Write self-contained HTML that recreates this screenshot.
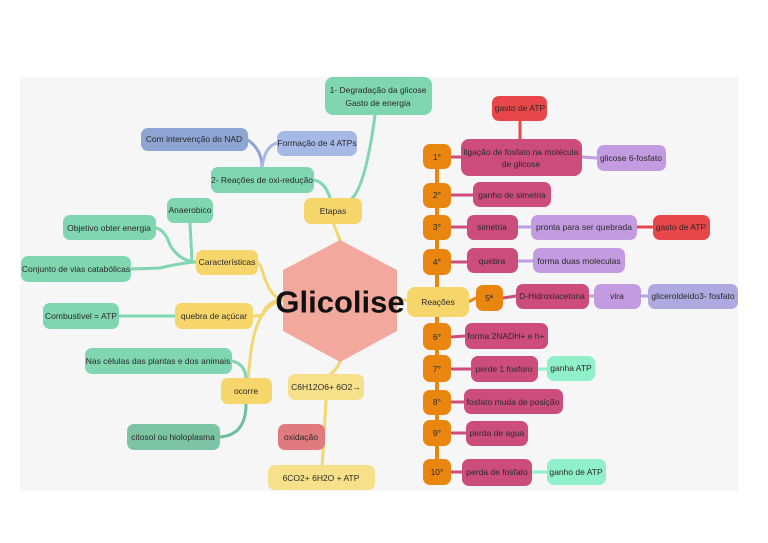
<!DOCTYPE html>
<html><head><meta charset="utf-8"><style>
html,body{margin:0;padding:0;background:#fff;}
svg{display:block;}
text{font-family:"Liberation Sans",sans-serif;font-size:8.5px;fill:#2a2a2a;text-anchor:middle;dominant-baseline:central;}
</style></head><body>
<svg width="768" height="543" viewBox="0 0 768 543" xmlns="http://www.w3.org/2000/svg">
<rect x="20" y="77" width="718" height="414" fill="#f6f6f6"/>
<g fill="none" stroke-width="3" stroke-linecap="round">
<!-- yellow connectors from center -->
<path d="M340 240 Q335 228 333 222" stroke="#f2d770"/>
<path d="M283 300 Q270 298 262 270 Q260 263 256 262" stroke="#f2d770"/>
<path d="M283 300 Q268 300 262 315 Q258 316 252 316" stroke="#f2d770"/>
<path d="M283 300 Q255 305 250 360 Q248 378 248 380" stroke="#f2d770"/>
<path d="M340 362 Q335 372 328 376" stroke="#f2d770"/>
<path d="M326 400 L322 470" stroke="#f2d770"/>
<path d="M397 300 L408 300" stroke="#f2d770"/>
<!-- green -->
<path d="M350 200 Q365 190 375 115" stroke="#7fd6b0"/>
<path d="M314 180 Q325 182 330 198" stroke="#7fd6b0"/>
<path d="M198 262 Q185 262 160 268 L131 269" stroke="#7fd6b0"/>
<path d="M198 262 Q180 262 170 245 Q165 230 156 228" stroke="#7fd6b0"/>
<path d="M198 262 L192 262 L190 223" stroke="#7fd6b0"/>
<path d="M176 316 L119 316" stroke="#7fd6b0"/>
<path d="M232 361 Q245 364 246 378" stroke="#7fd6b0"/>
<path d="M246 404 Q246 435 220 437" stroke="#6fbf9c"/>
<!-- blue -->
<path d="M262 167 Q262 150 248 140" stroke="#8ea4d2"/>
<path d="M262 167 Q265 146 277 143" stroke="#a5b8e6"/>
<!-- orange spine -->
<path d="M437 157 L437 472" stroke="#e8860f" stroke-width="4"/>
<path d="M468 302 L476 298" stroke="#e8860f"/>
<!-- magenta -->
<g stroke="#cc4d7b">
<path d="M451 157 L461 157"/><path d="M451 195 L473 195"/><path d="M451 227 L467 227"/><path d="M451 262 L467 262"/>
<path d="M503 298 L516 296"/><path d="M451 337 L465 336"/><path d="M451 369 L471 369"/><path d="M451 402 L464 402"/>
<path d="M451 433 L466 433"/><path d="M451 472 L462 472"/>
</g>
<path d="M520 121 L520 139" stroke="#e8474a"/>
<path d="M582 157 L597 158" stroke="#c39be0"/>
<path d="M518 227 L531 227" stroke="#c39be0"/>
<path d="M637 227 L653 227" stroke="#e8474a"/>
<path d="M518 261 L533 261" stroke="#c39be0"/>
<path d="M589 296 L594 296" stroke="#c39be0"/>
<path d="M641 296 L648 296" stroke="#b0a8e0"/>
<path d="M538 369 L547 369" stroke="#8ff0c9"/>
<path d="M532 472 L547 472" stroke="#8ff0c9"/>
</g>
<!-- hexagon -->
<polygon points="340,240 397,270 397,331 340,362 283,331 283,270" fill="#f2a89c"/>
<text x="340" y="302" style="font-size:31px;font-weight:bold;fill:#111">Glicolise</text>

<g>
<rect x="325" y="77" width="107" height="38" rx="8" fill="#7fd6b0"/><text x="378" y="90">1- Degradação da glicose</text><text x="378" y="103">Gasto de energia</text>
<rect x="141" y="128" width="107" height="23" rx="7" fill="#8ea4d2"/><text x="194" y="139">Com intervenção do NAD</text>
<rect x="277" y="131" width="80" height="25" rx="7" fill="#a5b8e6"/><text x="317" y="143">Formação de 4 ATPs</text>
<rect x="211" y="167" width="103" height="26" rx="7" fill="#7fd6b0"/><text x="262" y="180">2- Reações de oxi-redução</text>
<rect x="304" y="198" width="58" height="26" rx="7" fill="#f6d56a"/><text x="333" y="211">Etapas</text>
<rect x="167" y="198" width="46" height="25" rx="7" fill="#7fd6b0"/><text x="190" y="210">Anaerobico</text>
<rect x="63" y="215" width="93" height="25" rx="7" fill="#7fd6b0"/><text x="109" y="228">Objetivo obter energia</text>
<rect x="21" y="256" width="110" height="26" rx="7" fill="#7fd6b0"/><text x="76" y="269">Conjunto de vias catabólicas</text>
<rect x="196" y="250" width="62" height="25" rx="7" fill="#f6d56a"/><text x="227" y="262">Características</text>
<rect x="43" y="303" width="76" height="26" rx="7" fill="#7fd6b0"/><text x="81" y="316">Combustivel = ATP</text>
<rect x="175" y="303" width="78" height="26" rx="7" fill="#f6d56a"/><text x="214" y="316">quebra de açúcar</text>
<rect x="85" y="348" width="147" height="26" rx="7" fill="#7fd6b0"/><text x="158" y="361">Nas células das plantas e dos animais</text>
<rect x="221" y="378" width="51" height="26" rx="7" fill="#f6d56a"/><text x="246" y="391">ocorre</text>
<rect x="127" y="424" width="93" height="26" rx="7" fill="#7cc4a3"/><text x="173" y="437">citosol ou hioloplasma</text>
<rect x="288" y="374" width="76" height="26" rx="7" fill="#f7e08a"/><text x="326" y="387">C6H12O6+ 6O2→</text>
<rect x="278" y="424" width="47" height="26" rx="7" fill="#e07a7e"/><text x="301" y="437">oxidação</text>
<rect x="268" y="465" width="107" height="25" rx="7" fill="#f7e08a"/><text x="321" y="478">6CO2+ 6H2O + ATP</text>

<rect x="407" y="287" width="62" height="30" rx="8" fill="#f6d56a"/><text x="438" y="302">Reações</text>
<g fill="#e8860f">
<rect x="423" y="144" width="28" height="25" rx="7"/><rect x="423" y="183" width="28" height="25" rx="7"/>
<rect x="423" y="215" width="28" height="25" rx="7"/><rect x="423" y="249" width="28" height="26" rx="7"/>
<rect x="476" y="285" width="27" height="26" rx="7"/><rect x="423" y="323" width="28" height="27" rx="7"/>
<rect x="423" y="355" width="28" height="27" rx="7"/><rect x="423" y="390" width="28" height="25" rx="7"/>
<rect x="423" y="420" width="28" height="26" rx="7"/><rect x="423" y="459" width="28" height="26" rx="7"/>
</g>
<text x="437" y="157">1°</text><text x="437" y="195">2°</text><text x="437" y="227">3°</text><text x="437" y="262">4°</text>
<text x="489" y="298">5ª</text><text x="437" y="337">6°</text><text x="437" y="369">7°</text><text x="437" y="402">8°</text>
<text x="437" y="433">9°</text><text x="437" y="472">10°</text>

<rect x="492" y="96" width="55" height="25" rx="7" fill="#e8474a"/><text x="520" y="108">gasto de ATP</text>
<rect x="461" y="139" width="121" height="37" rx="8" fill="#cc4d7b"/><text x="521" y="152">ligação de fosfato na molécula</text><text x="521" y="164">de glicose</text>
<rect x="597" y="145" width="69" height="26" rx="7" fill="#c39be0"/><text x="631" y="158">glicose 6-fosfato</text>
<rect x="473" y="182" width="78" height="25" rx="7" fill="#cc4d7b"/><text x="512" y="195">ganho de simetria</text>
<rect x="467" y="215" width="51" height="25" rx="7" fill="#cc4d7b"/><text x="492" y="227">simetria</text>
<rect x="531" y="215" width="106" height="25" rx="7" fill="#c39be0"/><text x="584" y="227">pronta para ser quebrada</text>
<rect x="653" y="215" width="57" height="25" rx="7" fill="#e8474a"/><text x="681" y="227">gasto de ATP</text>
<rect x="467" y="248" width="51" height="25" rx="7" fill="#cc4d7b"/><text x="492" y="261">quebra</text>
<rect x="533" y="248" width="92" height="25" rx="7" fill="#c39be0"/><text x="579" y="261">forma duas moleculas</text>
<rect x="516" y="284" width="73" height="25" rx="7" fill="#cc4d7b"/><text x="552" y="296">D-Hidroxiacetona</text>
<rect x="594" y="284" width="47" height="25" rx="7" fill="#c39be0"/><text x="617" y="296">vira</text>
<rect x="648" y="284" width="90" height="25" rx="7" fill="#b0a8e0"/><text x="693" y="296">gliceroldeido3- fosfato</text>
<rect x="465" y="323" width="83" height="26" rx="7" fill="#cc4d7b"/><text x="506" y="336">forma 2NADH+ e h+</text>
<rect x="471" y="356" width="67" height="26" rx="7" fill="#cc4d7b"/><text x="504" y="369">perde 1 fosforo</text>
<rect x="547" y="356" width="48" height="25" rx="7" fill="#8ff0c9"/><text x="571" y="368">ganha ATP</text>
<rect x="464" y="389" width="99" height="25" rx="7" fill="#cc4d7b"/><text x="513" y="402">fosfato muda de posição</text>
<rect x="466" y="421" width="62" height="25" rx="7" fill="#cc4d7b"/><text x="497" y="433">perda de agua</text>
<rect x="462" y="459" width="70" height="27" rx="7" fill="#cc4d7b"/><text x="497" y="472">perda de fosfato</text>
<rect x="547" y="459" width="59" height="26" rx="7" fill="#8ff0c9"/><text x="576" y="472">ganho de ATP</text>
</g>
</svg>
</body></html>
